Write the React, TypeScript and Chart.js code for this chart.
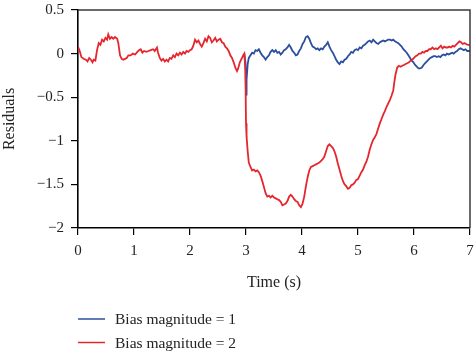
import React, { useEffect, useRef } from "react";
import { Chart, registerables } from "chart.js";

Chart.register(...registerables);

const seriesLabels = ["Bias magnitude = 1", "Bias magnitude = 2"];
const seriesColors = ["#2b4f9e", "#e5262d"];

const xTicks = [0, 1, 2, 3, 4, 5, 6, 7];
const yTicks = [-2, -1.5, -1, -0.5, 0, 0.5];

const redTime = [
  0.00, 0.03, 0.06, 0.10, 0.14, 0.17, 0.20, 0.23, 0.26, 0.28, 0.31, 0.34, 0.37, 0.40, 0.43, 0.46, 0.49, 0.52, 0.54, 0.57,
  0.60, 0.63, 0.66, 0.70, 0.72, 0.75, 0.78, 0.81, 0.84, 0.87, 0.90, 0.94, 0.98, 1.02, 1.06, 1.09, 1.12, 1.15, 1.18, 1.22,
  1.26, 1.30, 1.34, 1.37, 1.41, 1.43, 1.46, 1.49, 1.52, 1.55, 1.58, 1.61, 1.64, 1.67, 1.70, 1.73, 1.76, 1.79, 1.82, 1.85,
  1.88, 1.91, 1.94, 1.97, 2.00, 2.03, 2.06, 2.09, 2.12, 2.15, 2.18, 2.21, 2.24, 2.27, 2.30, 2.33, 2.36, 2.39, 2.42, 2.45,
  2.48, 2.51, 2.54, 2.57, 2.60, 2.63, 2.66, 2.69, 2.72, 2.75, 2.78, 2.81, 2.84, 2.86, 2.89, 2.92, 2.95, 2.97, 2.99, 3.00,
  3.01, 3.03, 3.05, 3.08, 3.11, 3.14, 3.17, 3.20, 3.23, 3.26, 3.29, 3.32, 3.35, 3.38, 3.41, 3.44, 3.47, 3.50, 3.53, 3.56,
  3.59, 3.62, 3.65, 3.68, 3.71, 3.74, 3.77, 3.80, 3.83, 3.86, 3.89, 3.92, 3.95, 3.98, 4.01, 4.04, 4.07, 4.10, 4.13, 4.16,
  4.19, 4.22, 4.25, 4.28, 4.31, 4.34, 4.37, 4.40, 4.43, 4.46, 4.49, 4.52, 4.55, 4.58, 4.61, 4.64, 4.67, 4.70, 4.73, 4.76,
  4.79, 4.82, 4.85, 4.88, 4.91, 4.94, 4.97, 5.00, 5.03, 5.06, 5.09, 5.12, 5.15, 5.18, 5.21, 5.24, 5.27, 5.30, 5.33, 5.36,
  5.39, 5.42, 5.45, 5.48, 5.51, 5.54, 5.57, 5.60, 5.63, 5.65, 5.67, 5.70, 5.73, 5.76, 5.79, 5.82, 5.85, 5.88, 5.91, 5.94,
  5.97, 6.00, 6.03, 6.06, 6.09, 6.12, 6.15, 6.18, 6.21, 6.24, 6.27, 6.30, 6.33, 6.36, 6.39, 6.42, 6.45, 6.48, 6.51, 6.54,
  6.57, 6.60, 6.63, 6.66, 6.69, 6.72, 6.75, 6.78, 6.81, 6.84, 6.87, 6.90, 6.93, 6.96, 7.00,
];
const redValues = [
  0.08, 0.03, -0.04, -0.06, -0.07, -0.09, -0.05, -0.07, -0.10, -0.07, -0.08, 0.04, 0.12, 0.10, 0.16, 0.14, 0.18, 0.16, 0.22, 0.17,
  0.19, 0.17, 0.19, 0.17, 0.12, -0.02, -0.06, -0.07, -0.06, -0.05, -0.02, -0.02, 0.00, -0.01, 0.02, 0.04, 0.05, 0.01, 0.03, 0.02,
  0.03, 0.04, 0.05, 0.03, 0.07, 0.01, -0.05, -0.08, -0.06, -0.09, -0.07, -0.09, -0.05, -0.06, -0.02, -0.04, 0.00, -0.02, 0.01, -0.01,
  0.02, 0.00, 0.03, 0.02, 0.04, 0.05, 0.09, 0.16, 0.13, 0.15, 0.11, 0.08, 0.12, 0.17, 0.14, 0.20, 0.18, 0.13, 0.15, 0.18,
  0.14, 0.16, 0.17, 0.13, 0.12, 0.08, 0.06, 0.03, -0.02, -0.05, -0.10, -0.16, -0.20, -0.17, -0.10, -0.06, -0.02, 0.00, -0.20, -0.80,
  -0.95, -1.12, -1.25, -1.30, -1.34, -1.33, -1.35, -1.34, -1.36, -1.40, -1.46, -1.53, -1.60, -1.64, -1.63, -1.65, -1.63, -1.65, -1.66, -1.67,
  -1.68, -1.70, -1.74, -1.73, -1.72, -1.69, -1.64, -1.62, -1.64, -1.67, -1.69, -1.70, -1.74, -1.76, -1.72, -1.64, -1.52, -1.42, -1.34, -1.30,
  -1.29, -1.28, -1.27, -1.26, -1.25, -1.23, -1.21, -1.18, -1.12, -1.06, -1.04, -1.06, -1.08, -1.12, -1.18, -1.26, -1.33, -1.40, -1.46, -1.50,
  -1.52, -1.55, -1.54, -1.51, -1.50, -1.48, -1.45, -1.44, -1.40, -1.36, -1.33, -1.28, -1.24, -1.18, -1.10, -1.04, -0.99, -0.96, -0.92, -0.86,
  -0.80, -0.75, -0.70, -0.66, -0.61, -0.57, -0.53, -0.48, -0.42, -0.32, -0.24, -0.16, -0.14, -0.15, -0.14, -0.13, -0.12, -0.11, -0.10, -0.08,
  -0.07, -0.05, -0.03, -0.02, 0.00, 0.00, 0.02, 0.01, 0.03, 0.03, 0.05, 0.05, 0.07, 0.05, 0.06, 0.05, 0.07, 0.09, 0.06, 0.08,
  0.07, 0.07, 0.08, 0.07, 0.09, 0.08, 0.10, 0.12, 0.14, 0.13, 0.11, 0.12, 0.11, 0.10, 0.10,
];

const blueTime = [
  2.97, 2.99, 3.00, 3.01, 3.03, 3.05, 3.08, 3.11, 3.14, 3.17, 3.20, 3.23, 3.26, 3.29, 3.32, 3.35, 3.38, 3.41, 3.44, 3.47,
  3.50, 3.53, 3.56, 3.59, 3.62, 3.65, 3.68, 3.71, 3.74, 3.77, 3.80, 3.83, 3.86, 3.89, 3.92, 3.95, 3.98, 4.01, 4.04, 4.07,
  4.10, 4.13, 4.16, 4.19, 4.22, 4.25, 4.28, 4.31, 4.34, 4.37, 4.40, 4.43, 4.46, 4.49, 4.52, 4.55, 4.58, 4.61, 4.64, 4.67,
  4.70, 4.73, 4.76, 4.79, 4.82, 4.85, 4.88, 4.91, 4.94, 4.97, 5.00, 5.03, 5.06, 5.09, 5.12, 5.15, 5.18, 5.21, 5.24, 5.27,
  5.30, 5.33, 5.36, 5.39, 5.42, 5.45, 5.48, 5.51, 5.54, 5.57, 5.60, 5.63, 5.66, 5.69, 5.72, 5.75, 5.78, 5.81, 5.84, 5.87,
  5.90, 5.93, 5.96, 5.99, 6.02, 6.05, 6.08, 6.11, 6.14, 6.17, 6.20, 6.23, 6.26, 6.29, 6.32, 6.35, 6.38, 6.41, 6.44, 6.47,
  6.50, 6.53, 6.56, 6.59, 6.62, 6.65, 6.68, 6.71, 6.74, 6.77, 6.80, 6.83, 6.86, 6.89, 6.92, 6.95, 7.00,
];
const blueValues = [
  0.00, -0.10, -0.47, -0.30, -0.12, -0.05, -0.02, 0.01, 0.00, 0.04, 0.03, 0.05, 0.01, -0.02, -0.04, -0.07, -0.04, -0.02, 0.02, 0.04,
  0.02, 0.04, 0.01, 0.02, -0.01, 0.01, 0.04, 0.05, 0.07, 0.10, 0.07, 0.03, 0.01, -0.02, -0.01, 0.03, 0.06, 0.11, 0.14, 0.19,
  0.20, 0.17, 0.12, 0.08, 0.07, 0.05, 0.06, 0.04, 0.06, 0.05, 0.08, 0.10, 0.13, 0.08, 0.04, 0.01, -0.03, -0.07, -0.10, -0.12,
  -0.09, -0.10, -0.07, -0.06, -0.03, -0.01, 0.02, 0.01, 0.04, 0.05, 0.04, 0.07, 0.06, 0.09, 0.10, 0.12, 0.14, 0.15, 0.13, 0.16,
  0.14, 0.12, 0.11, 0.13, 0.14, 0.15, 0.14, 0.15, 0.16, 0.16, 0.15, 0.16, 0.14, 0.13, 0.12, 0.10, 0.08, 0.05, 0.03, 0.01,
  -0.02, -0.05, -0.08, -0.10, -0.13, -0.15, -0.17, -0.17, -0.16, -0.13, -0.11, -0.09, -0.07, -0.05, -0.04, -0.03, -0.03, -0.04, -0.03, -0.04,
  -0.02, -0.01, -0.02, 0.00, -0.01, 0.00, 0.01, 0.00, 0.02, 0.03, 0.05, 0.06, 0.05, 0.04, 0.05, 0.03, 0.03,
];

const FONT = "'Liberation Serif', 'Times New Roman', serif";

const fmt = (v: number) => (v < 0 ? "\u2212" + String(-v) : String(v));

const boxPlugin = {
  id: "boxPlugin",
  afterDatasetsDraw(chart: any) {
    const { ctx, chartArea } = chart;
    ctx.save();
    ctx.strokeStyle = "#3a3a3a";
    ctx.lineWidth = 1.5;
    ctx.beginPath();
    ctx.moveTo(chartArea.left, chartArea.top);
    ctx.lineTo(chartArea.right, chartArea.top);
    ctx.lineTo(chartArea.right, chartArea.bottom);
    ctx.stroke();
    ctx.restore();
  },
};

const legendPlugin = {
  id: "legendPlugin",
  afterDraw(chart: any) {
    const { ctx, chartArea } = chart;
    ctx.save();
    ctx.font = "15.5px " + FONT;
    ctx.textBaseline = "middle";
    ctx.textAlign = "left";
    chart.data.datasets.forEach((ds: any, i: number) => {
      const y = chartArea.bottom + 91 + i * 23.5;
      ctx.strokeStyle = ds.borderColor;
      ctx.lineWidth = 1.5;
      ctx.beginPath();
      ctx.moveTo(chartArea.left, y);
      ctx.lineTo(chartArea.left + 27, y);
      ctx.stroke();
      ctx.fillStyle = "#222";
      ctx.fillText(ds.label, chartArea.left + 37, y + 1);
    });
    ctx.restore();
  },
};

const noPad = (s: any) => {
  s.paddingTop = 0;
  s.paddingBottom = 0;
  s.paddingLeft = 0;
  s.paddingRight = 0;
};

export default function App() {
  const ref = useRef<HTMLCanvasElement>(null);
  useEffect(() => {
    if (!ref.current) return;
    const chart = new Chart(ref.current, {
      type: "line",
      data: {
        datasets: [
          {
            label: seriesLabels[0],
            data: blueTime.map((t, i) => ({ x: t, y: blueValues[i] })),
            borderColor: seriesColors[0],
            borderWidth: 1.8,
            pointRadius: 0,
            tension: 0,
            order: 2,
          },
          {
            label: seriesLabels[1],
            data: redTime.map((t, i) => ({ x: t, y: redValues[i] })),
            borderColor: seriesColors[1],
            borderWidth: 1.8,
            pointRadius: 0,
            tension: 0,
            order: 1,
          },
        ],
      },
      options: {
        animation: false,
        responsive: false,
        events: [],
        layout: { padding: { top: 10, right: 4, bottom: 61, left: 0 } },
        plugins: { legend: { display: false }, tooltip: { enabled: false } },
        scales: {
          x: {
            type: "linear",
            min: 0,
            max: 7,
            afterFit: (s: any) => { s.height = 64; noPad(s); },
            afterBuildTicks: (s: any) => { s.ticks = xTicks.map((v) => ({ value: v })); },
            ticks: { callback: (v: any) => fmt(Number(v)), color: "#222", font: { family: FONT, size: 15 }, padding: 7, maxRotation: 0 },
            grid: { display: true, drawOnChartArea: false, drawTicks: true, tickLength: 7, color: "#000", lineWidth: 1.2 },
            border: { display: true, color: "#000", width: 1.6 },
            title: { display: true, text: "Time (s)", color: "#222", font: { family: FONT, size: 16 }, padding: 0 },
          },
          y: {
            type: "linear",
            min: -2,
            max: 0.5,
            afterFit: (s: any) => { s.width = 78; noPad(s); },
            afterBuildTicks: (s: any) => { s.ticks = yTicks.map((v) => ({ value: v })); },
            ticks: { callback: (v: any) => fmt(Number(v)), color: "#222", font: { family: FONT, size: 15 }, padding: 7 },
            grid: { display: true, drawOnChartArea: false, drawTicks: true, tickLength: 7, color: "#000", lineWidth: 1.2 },
            border: { display: true, color: "#000", width: 1.6 },
            title: { display: true, text: "Residuals", color: "#222", font: { family: FONT, size: 16 }, padding: 0 },
          },
        },
      },
      plugins: [boxPlugin, legendPlugin],
    });
    return () => chart.destroy();
  }, []);
  return (
    <div style={{ position: "absolute", left: 0, top: 0, width: 474, height: 353, background: "#fff" }}>
      <canvas ref={ref} width={474} height={353} />
    </div>
  );
}
